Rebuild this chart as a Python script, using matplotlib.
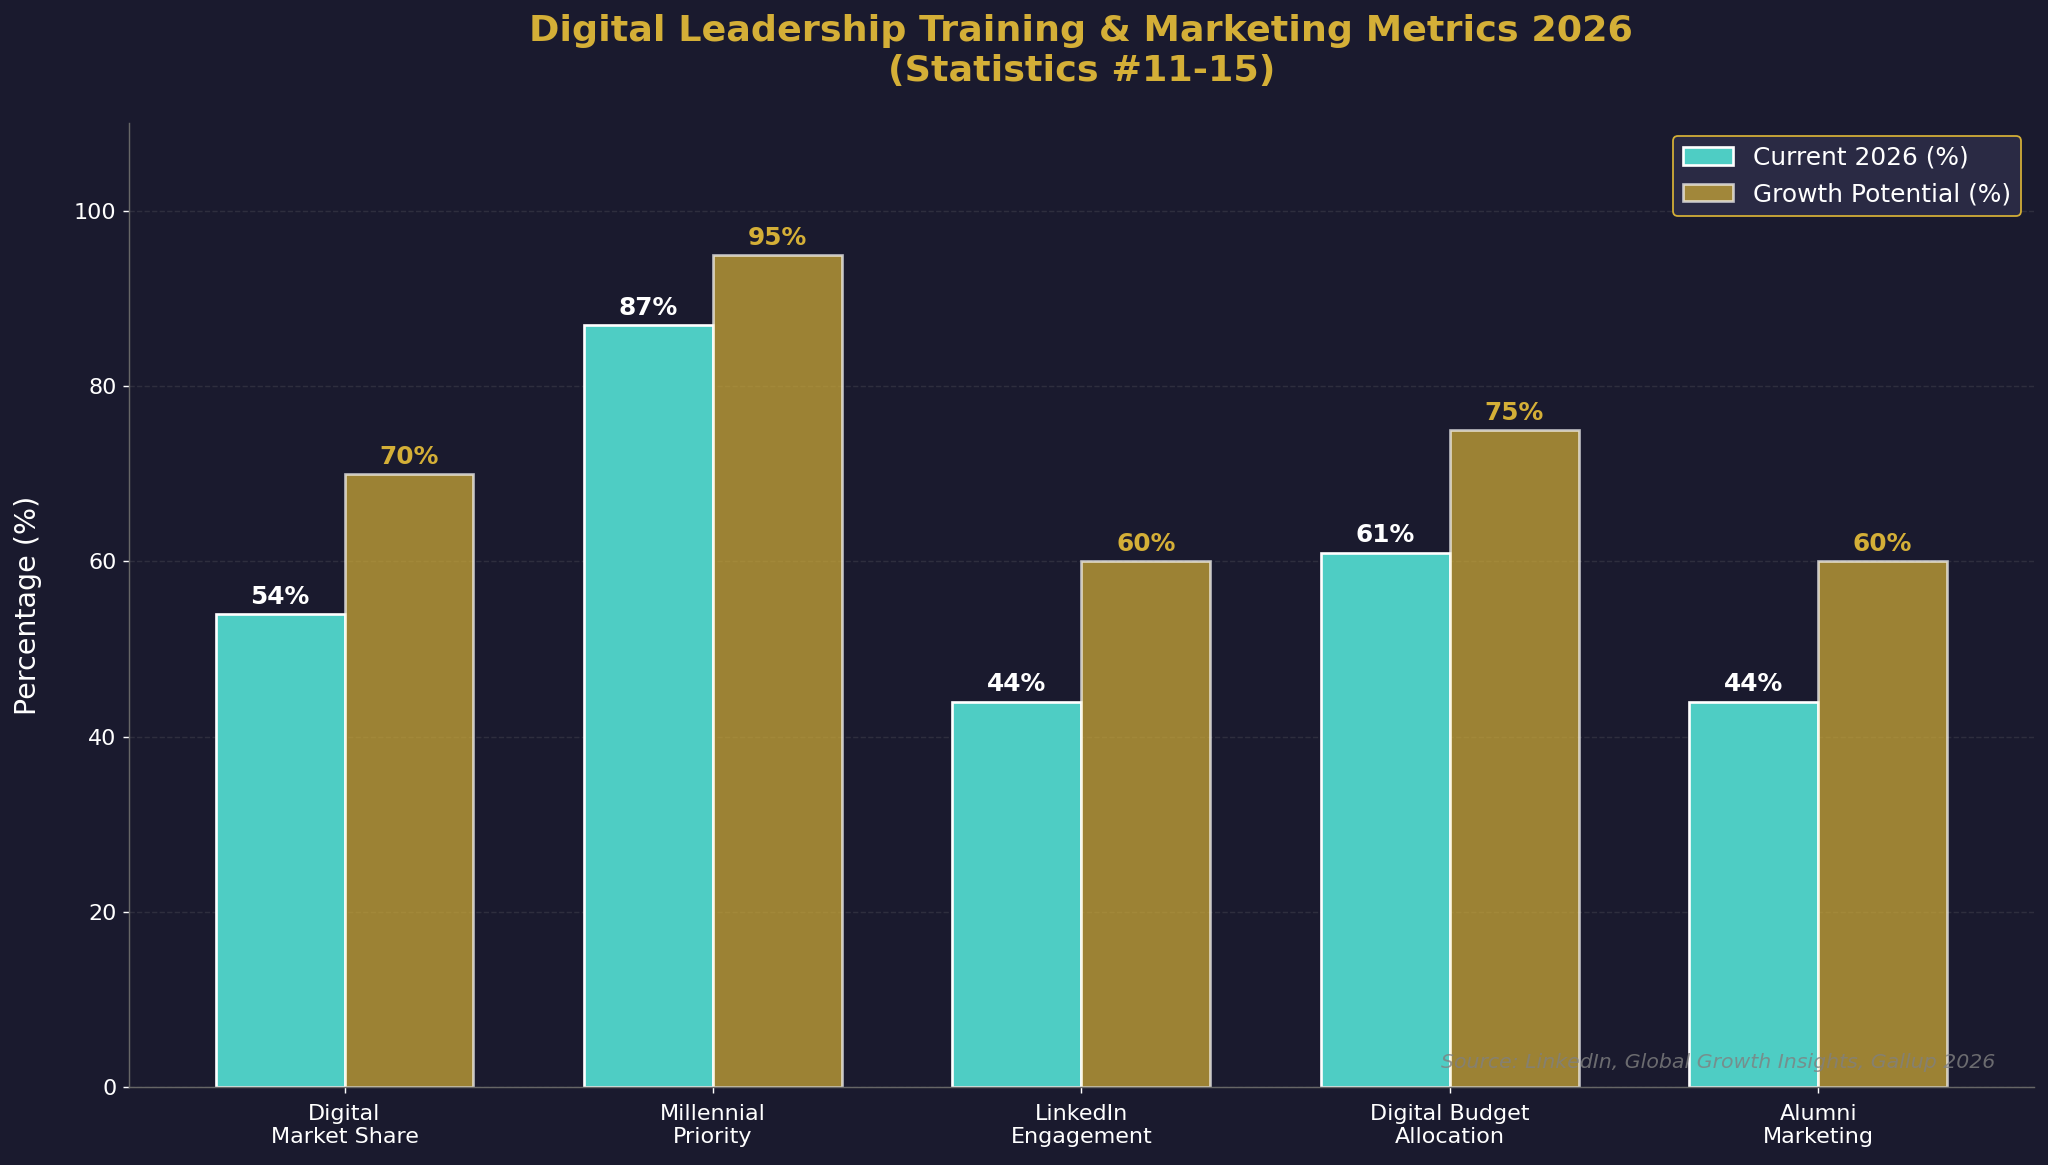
import matplotlib
matplotlib.use("Agg")
import matplotlib.pyplot as plt
import numpy as np

categories = ["Digital\nMarket Share", "Millennial\nPriority", "LinkedIn\nEngagement",
              "Digital Budget\nAllocation", "Alumni\nMarketing"]
current = [54, 87, 44, 61, 44]
growth = [70, 95, 60, 75, 60]

bg = "#1a1a2e"
cyan = "#4ecdc4"
gold = "#d4af37"

fig = plt.figure(figsize=(16, 1165/128), dpi=128, facecolor=bg)
ax = fig.add_axes([0.063, 0.067, 0.930, 0.827], facecolor=bg)

x = np.arange(len(categories))
w = 0.35
b1 = ax.bar(x - w/2, current, w, color=cyan, edgecolor="white", linewidth=1.5, label="Current 2026 (%)")
b2 = ax.bar(x + w/2, growth, w, color=gold, alpha=0.7, edgecolor="white", linewidth=1.5, label="Growth Potential (%)")

for r, v in zip(b1, current):
    ax.text(r.get_x() + r.get_width()/2, v + 0.6, f"{v}%", ha="center", va="bottom",
            color="white", fontsize=14, fontweight="bold")
for r, v in zip(b2, growth):
    ax.text(r.get_x() + r.get_width()/2, v + 0.6, f"{v}%", ha="center", va="bottom",
            color=gold, fontsize=14, fontweight="bold")

ax.set_ylim(0, 110)
ax.set_xticks(x)
ax.set_xticklabels(categories, color="white", fontsize=12.5)
ax.tick_params(axis="y", colors="white", labelsize=12.5)
ax.tick_params(axis="x", colors="white", pad=6)
ax.set_ylabel("Percentage (%)", color="white", fontsize=16, labelpad=18)
for s in ["top", "right"]:
    ax.spines[s].set_visible(False)
for s in ["left", "bottom"]:
    ax.spines[s].set_color("#666666")
ax.yaxis.grid(True, linestyle="--", color="gray", alpha=0.2)
ax.set_axisbelow(True)

ax.set_title("Digital Leadership Training & Marketing Metrics 2026\n(Statistics #11-15)",
             color=gold, fontsize=20.5, fontweight="bold", pad=24)

leg = ax.legend(loc="upper right", fontsize=14, facecolor="#2a2a44", edgecolor=gold,
                labelcolor="white", framealpha=1)

ax.text(0.98, 0.015, "Source: LinkedIn, Global Growth Insights, Gallup 2026", transform=ax.transAxes,
        ha="right", va="bottom", color="gray", alpha=0.8, fontsize=11.5, style="italic")

fig.savefig("out.png", facecolor=bg)
